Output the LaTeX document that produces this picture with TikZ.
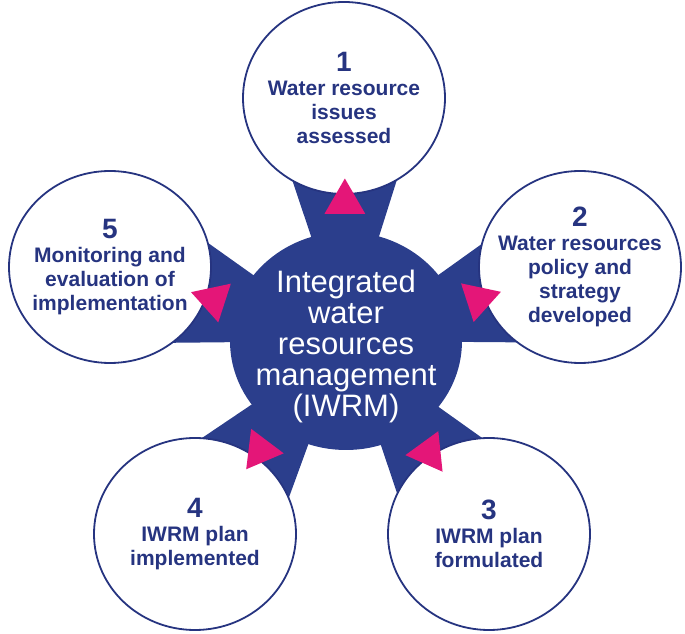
\documentclass[tikz,border=0pt]{standalone}
\usepackage{fontspec}
\setmainfont{Liberation Sans}
\usepackage{tikz}
\usetikzlibrary{shapes.geometric, calc}

\definecolor{iwrmblue}{RGB}{43,62,140}
\definecolor{iwrmtext}{RGB}{38,52,128}
\definecolor{iwrmpink}{RGB}{228,22,120}

\newcommand{\stagenum}[1]{{\fontsize{28}{28}\selectfont #1}}

\tikzset{
  stage/.style={ellipse, draw=iwrmtext, line width=1.8pt, fill=white,
    minimum width=202pt, minimum height=192pt, inner sep=0pt},
  stagetext/.style={align=center, text=iwrmtext, font=\bfseries\fontsize{21}{24}\selectfont},
  hub/.style={ellipse, fill=iwrmblue, minimum width=232pt, minimum height=218pt, inner sep=0pt},
  hubtext/.style={align=center, text=white, font=\fontsize{31}{31}\selectfont},
  pointer/.style={regular polygon, regular polygon sides=3, fill=iwrmpink,
    minimum size=47pt, inner sep=0pt},
}

\begin{document}
\begin{tikzpicture}[x=1pt, y=1pt]
  \useasboundingbox (0,0) rectangle (685,634);
  \coordinate (c) at (346,293);
  \coordinate (p1) at (344,536);
  \coordinate (p2) at (580,367);
  \coordinate (p3) at (489,100);
  \coordinate (p4) at (195,100);
  \coordinate (p5) at (110,367);
  \foreach \i in {1,...,5}
    \fill[iwrmblue] (c) -- ($(c)!1.03!18:(p\i)$) -- ($(c)!1.03!-18:(p\i)$) -- cycle;
  \node[hub, label={[hubtext, yshift=-5pt]center:{Integrated\\water\\resources\\management\\(IWRM)}}] (hub) at (c) {};
  \node[stage, label={[stagetext]center:{\stagenum{1}\\Water resource\\issues\\assessed}}] (s1) at (p1) {};
  \node[stage, label={[stagetext]center:{\stagenum{2}\\Water resources\\policy and\\strategy\\developed}}] (s2) at (p2) {};
  \node[stage, label={[stagetext]center:{\stagenum{3}\\IWRM plan\\formulated}}] (s3) at (p3) {};
  \node[stage, label={[stagetext]center:{\stagenum{4}\\IWRM plan\\implemented}}] (s4) at (p4) {};
  \node[stage, label={[stagetext]center:{\stagenum{5}\\Monitoring and\\evaluation of\\implementation}}] (s5) at (p5) {};
  \foreach \i/\a in {1/90, 2/18, 3/-54, 4/-127, 5/162}
    \node[pointer, rotate=\a-90] (t\i) at ($(hub.center)!139pt!(s\i.center)$) {};
\end{tikzpicture}
\end{document}
